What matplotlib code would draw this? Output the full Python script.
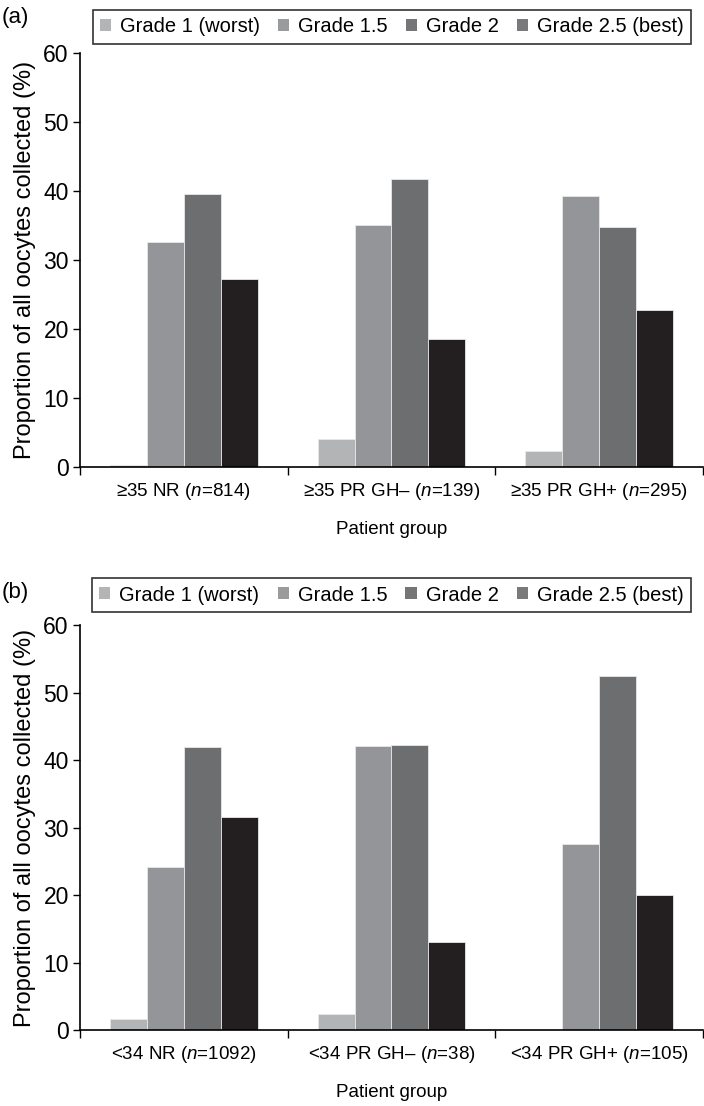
import numpy as np
import matplotlib
matplotlib.use('Agg')
import matplotlib.pyplot as plt
from matplotlib.patches import Patch

plt.rcParams['font.family'] = ['Liberation Sans Narrow', 'Liberation Sans', 'DejaVu Sans']
plt.rcParams['mathtext.fontset'] = 'custom'
plt.rcParams['mathtext.it'] = 'Liberation Sans:italic'
plt.rcParams['mathtext.rm'] = 'Liberation Sans'

# ====== Data ======
grades = ['Grade 1 (worst)', 'Grade 1.5', 'Grade 2', 'Grade 2.5 (best)']
bar_colors = ['#b3b4b6', '#939598', '#6d6e70', '#231f20']
legend_colors = ['#b3b4b6', '#9a9b9d', '#757577', '#7a7a7c']

groups_a = [r'≥35 NR ($n$=814)', r'≥35 PR GH– ($n$=139)', r'≥35 PR GH+ ($n$=295)']
values_a = [[0.35, 4.0, 2.3],     # grade 1
            [32.6, 35.1, 39.3],   # grade 1.5
            [39.5, 41.7, 34.8],   # grade 2
            [27.2, 18.5, 22.8]]   # grade 2.5

groups_b = [r'<34 NR ($n$=1092)', r'<34 PR GH– ($n$=38)', r'<34 PR GH+ ($n$=105)']
values_b = [[1.7, 2.4, 0.0],
            [24.2, 42.1, 27.5],
            [42.0, 42.2, 52.4],
            [31.6, 13.1, 20.0]]

fig = plt.figure(figsize=(7.04, 11.06), dpi=100)
ax_a = fig.add_axes([0.1136, 0.5778, 0.885, 0.3743])
ax_b = fig.add_axes([0.1136, 0.0687, 0.885, 0.3662])


def draw_panel(ax, groups, values):
    x = np.arange(len(groups))
    w = 0.178
    for i, vals in enumerate(values):
        ax.bar(x + (i - 1.5) * w, vals, width=w, color=bar_colors[i],
               edgecolor='#e8e8e8', linewidth=0.6)
    ax.set_xlim(-0.5, len(groups) - 0.5)
    ax.set_ylim(0, 60)
    ax.set_yticks(range(0, 61, 10))
    ax.tick_params(axis='y', labelsize=16.5, length=5, width=1, direction='out', pad=3)
    ax.set_xticks(np.arange(-0.5, len(groups), 1.0))
    ax.set_xticklabels([])
    ax.tick_params(axis='x', which='major', length=6, width=1, direction='out')
    ax.set_xticks(x, minor=True)
    ax.set_xticklabels(groups, minor=True, fontsize=13.5)
    ax.tick_params(axis='x', which='minor', length=0, pad=10)
    for s in ['top', 'right']:
        ax.spines[s].set_visible(False)
    ax.spines['left'].set_linewidth(1.2)
    ax.spines['bottom'].set_linewidth(1.2)
    ax.set_ylabel('Proportion of all oocytes collected (%)', fontsize=17, labelpad=5)
    ax.set_xlabel('Patient group', fontsize=13.5, labelpad=14)


draw_panel(ax_a, groups_a, values_a)
draw_panel(ax_b, groups_b, values_b)

handles = [Patch(facecolor=c, edgecolor='none') for c in legend_colors]
for yc, xc in [(0.9756, 0.557), (0.462, 0.556)]:
    leg = fig.legend(handles, grades, loc='center', bbox_to_anchor=(xc, yc), ncol=4,
                     fontsize=14.5, frameon=True, fancybox=False, edgecolor='black',
                     handlelength=0.55, handleheight=0.55, handletextpad=0.45,
                     columnspacing=0.9, borderpad=0.35)
    leg.get_frame().set_linewidth(1.2)

fig.text(0.002, 0.984, '(a)', fontsize=16, ha='left', va='center')
fig.text(0.002, 0.4647, '(b)', fontsize=16, ha='left', va='center')

plt.savefig('out.png', dpi=100)
plt.close()
